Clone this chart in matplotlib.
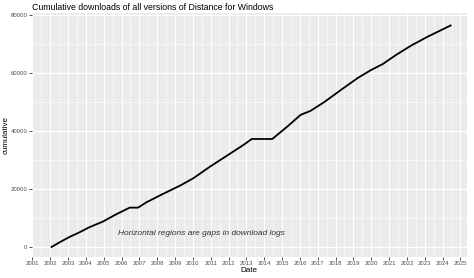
import matplotlib
matplotlib.use("Agg")
import matplotlib.pyplot as plt
import matplotlib.dates as mdates
import pandas as pd

title = "Cumulative downloads of all versions of Distance for Windows"
dates = ["2002-01-30", "2002-07-01", "2003-02-06", "2003-08-25", "2004-03-13",
         "2004-12-16", "2005-09-13", "2006-06-17", "2006-12-05", "2007-05-27",
         "2008-03-14", "2009-04-20", "2010-01-12", "2010-12-20", "2011-11-25",
         "2012-11-06", "2013-04-20", "2014-06-14", "2015-04-20", "2016-01-15",
         "2016-08-07", "2017-05-12", "2018-04-20", "2019-03-29", "2020-01-01",
         "2020-08-22", "2021-05-27", "2022-03-29", "2023-03-08", "2024-06-13"]
cumulative = [0, 1500, 3500, 5050, 6800, 8750, 11250, 13550, 13550, 15400,
              17900, 21200, 23700, 27700, 31400, 35200, 37200, 37200, 41500, 45500,
              46900, 49900, 54100, 58200, 61000, 63000, 66200, 69400, 72500, 76300]
y_ticks = [0, 20000, 40000, 60000, 80000]
note = "Horizontal regions are gaps in download logs"

plt.rcParams['font.family'] = ['Liberation Sans', 'DejaVu Sans']

W, H = 474, 278
L, R, T, B = 32, 466.7, 13, 256.7
fig = plt.figure(figsize=(W / 100, H / 100), dpi=100)
ax = fig.add_axes([L / W, (H - B) / H, (R - L) / W, (B - T) / H])
ax.set_facecolor("#EBEBEB")
for s in ax.spines.values():
    s.set_visible(False)

x = pd.to_datetime(dates)
ax.plot(x, cumulative, color="black", linewidth=1.3, solid_joinstyle="round", zorder=3)

ax.set_xlim(pd.Timestamp("2000-12-25"), pd.Timestamp("2025-05-08"))
ax.set_ylim(-3350, 80600)

ax.xaxis.set_major_locator(mdates.YearLocator(1))
ax.xaxis.set_major_formatter(mdates.DateFormatter("%Y"))
ax.xaxis.set_minor_locator(mdates.MonthLocator(bymonth=7))
ax.set_yticks(y_ticks)
ax.set_yticklabels([str(v) for v in y_ticks])
ax.set_yticks([10000, 30000, 50000, 70000], minor=True)

ax.grid(which="major", color="white", linewidth=0.8)
ax.grid(which="minor", color="white", linewidth=0.4)
ax.set_axisbelow(True)

ax.tick_params(which="major", length=2.2, width=0.6, color="#333333",
               labelsize=4.3, labelcolor="#4D4D4D", pad=1.2)
ax.tick_params(which="minor", length=0)

ax.set_xlabel("Date", fontsize=5.8, color="black", va="center")
ax.xaxis.set_label_coords(0.5, (B - 271) / (B - T))
ax.set_ylabel("cumulative", fontsize=5.8, color="black", va="center")
ax.yaxis.set_label_coords((6.5 - L) / (R - L), 0.5)
ax.set_title(title, fontsize=6.3, color="black", loc="left", pad=2.5)

ax.text(pd.Timestamp("2010-07-01"), 4800, note, fontsize=6, style="italic",
        color="#333333", ha="center", va="center")

fig.savefig("out.png", dpi=100)
